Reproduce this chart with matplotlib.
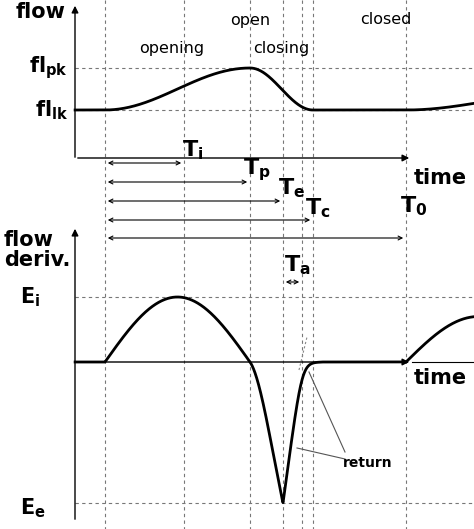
import numpy as np
import matplotlib
matplotlib.use("Agg")
import matplotlib.pyplot as plt

plt.rcParams['mathtext.fontset'] = 'dejavusans'

# timing instants (pixel-scaled time units)
t_start, t_i, t_p, t_e, t_a_end, t_c, t_0 = 105, 184, 250, 283, 302, 313, 406
# levels (pixel-scaled)
fl_lk, fl_pk = 110, 68
zero_d, E_i, E_e = 362, 297, 503
time_labels = ["T$_\\mathbf{i}$", "T$_\\mathbf{p}$", "T$_\\mathbf{e}$", "T$_\\mathbf{c}$", "T$_\\mathbf{0}$"]

fig = plt.figure(figsize=(4.74, 5.29), dpi=100)
ax = fig.add_axes([0, 0, 1, 1])
ax.set_xlim(0, 474); ax.set_ylim(529, 0); ax.axis('off')

dash = dict(color='#777777', lw=0.8, ls=(0, (3, 3)))
for x in [t_start, t_i, t_p, t_e, t_a_end, t_c, t_0]:
    ax.plot([x, x], [0, 529], **dash)
for y in [fl_pk, fl_lk, E_i, E_e]:
    ax.plot([75, 474], [y, y], **dash)

def arrow(x0, y0, x1, y1, lw=1.0):
    ax.annotate('', xy=(x1, y1), xytext=(x0, y0),
                arrowprops=dict(arrowstyle='-|>', lw=lw, color='black', mutation_scale=10))
arrow(75, 160, 75, 3); arrow(75, 158, 412, 158)
arrow(75, 522, 75, 226); arrow(75, zero_d, 412, zero_d)
ax.plot([412, 474], [zero_d, zero_d], color='black', lw=0.8)

# flow curve
t = np.linspace(60, 474, 2000)
flow = np.full_like(t, fl_lk, dtype=float)
m = (t >= t_start) & (t <= t_p)
flow[m] = fl_lk - (fl_lk - fl_pk) * (1 - np.cos(np.pi * (t[m] - t_start) / (t_p - t_start))) / 2
m = (t > t_p) & (t <= t_c)
flow[m] = fl_pk + (fl_lk - fl_pk) * (1 - np.cos(np.pi * (t[m] - t_p) / (t_c - t_p))) / 2
m = t > t_0
flow[m] = fl_lk - 0.35 * (fl_lk - fl_pk) * (1 - np.cos(np.pi * (t[m] - t_0) / (t_p - t_start))) / 2
m = t >= 75
ax.plot(t[m], flow[m], color='black', lw=2)

# derivative curve
A = zero_d - E_i
d = np.full_like(t, zero_d, dtype=float)
m = (t >= t_start) & (t <= t_p)
d[m] = zero_d - A * np.sin(np.pi * (t[m] - t_start) / (t_p - t_start))
# Hermite segment from t_p to t_e
L = t_e - t_p
m0 = A * np.pi / (t_p - t_start) * L
m1 = 4.6 * L
m = (t > t_p) & (t <= t_e)
u = (t[m] - t_p) / L
h = (u**3 - 2*u**2 + u) * m0 + (-2*u**3 + 3*u**2) * (E_e - zero_d) + (u**3 - u**2) * m1
d[m] = zero_d + h
Ta, k = t_a_end - t_e, 3.5
m = (t > t_e) & (t <= t_c + 8)
s = t[m] - t_e
g = k * np.log1p(np.exp((Ta - s) / k)) / (k * np.log1p(np.exp(Ta / k)))
d[m] = zero_d + (E_e - zero_d) * g
m = t > t_0
d[m] = zero_d - A * 0.7 * np.sin(np.pi * (t[m] - t_0) / (t_p - t_start))
m = t >= 75
ax.plot(t[m], d[m], color='black', lw=2)

# tangent and return annotation
ax.plot([t_a_end - 3, t_a_end + 5], [zero_d + 8, 337], color='#888888', lw=0.8, ls=(0, (2, 2)))
ax.plot([345, 297], [459, 448], color='#555555', lw=0.8)
ax.plot([345, 309], [452, 372], color='#555555', lw=0.8)
ax.text(343, 463, 'return', fontsize=10, fontweight='bold', va='center')

# time arrows
ys = [163, 182, 201, 220, 238]
ends = [t_i, t_p, t_e, t_c, t_0]
lab_pos = [(182, 150), (243, 170), (278, 188), (305, 208), (400, 206)]
for y, e, lab, (lx, ly) in zip(ys, ends, time_labels, lab_pos):
    ax.annotate('', xy=(e, y), xytext=(t_start, y),
                arrowprops=dict(arrowstyle='<->', lw=0.8, color='black', mutation_scale=7))
    ax.text(lx, ly, lab, fontsize=16, fontweight='bold', va='center')
ax.annotate('', xy=(t_a_end, 282), xytext=(t_e, 282),
            arrowprops=dict(arrowstyle='<->', lw=0.8, color='black', mutation_scale=7))
ax.text(284, 265, "T$_\\mathbf{a}$", fontsize=16, fontweight='bold', va='center')

b = dict(fontweight='bold', fontsize=15)
ax.text(66, 12, 'flow', ha='right', va='center', **b)
ax.text(68, 68, r'$\mathbf{fl_{pk}}$', ha='right', va='center', fontsize=15)
ax.text(68, 110, r'$\mathbf{fl_{lk}}$', ha='right', va='center', fontsize=15)
ax.text(414, 178, 'time', va='center', **b)
ax.text(414, 378, 'time', va='center', **b)
ax.text(4, 250, 'flow\nderiv.', va='center', linespacing=1.0, **b)
ax.text(20, 297, r'$\mathbf{E_{i}}$', va='center', fontsize=15)
ax.text(20, 508, r'$\mathbf{E_{e}}$', va='center', fontsize=15)
n = dict(fontsize=11.5)
ax.text(250, 20, 'open', ha='center', va='center', **n)
ax.text(386, 20, 'closed', ha='center', va='center', **n)
ax.text(172, 48, 'opening', ha='center', va='center', **n)
ax.text(281, 48, 'closing', ha='center', va='center', **n)

fig.savefig('out.png', dpi=100)
